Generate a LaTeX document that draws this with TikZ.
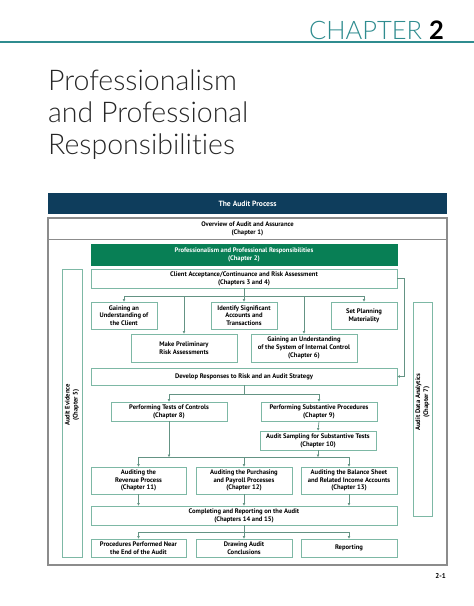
\documentclass[tikz,border=0pt]{standalone}
\usepackage{fontspec}
\setmainfont{PT Sans}
\newfontfamily\lightfont[Ligatures={NoCommon,NoRare}]{Lato Light}
\newfontfamily\latofont{Lato}
\usetikzlibrary{arrows.meta}
\definecolor{navy}{HTML}{0E3D5C}
\definecolor{dgreen}{HTML}{087F55}
\definecolor{edge}{HTML}{7DB8A5}
\definecolor{teal}{HTML}{2F8C8F}
\definecolor{frame}{HTML}{8C8C8C}
\tikzset{
  txt/.style={font=\fontsize{6.6}{7.8}\selectfont\bfseries,text=black},
  box/.style={draw=edge,line width=0.9pt,fill=white,align=center,inner sep=1pt,txt},
  arr/.style={draw=edge!80!black,line width=0.7pt,-{Triangle[length=2.4pt,width=2.4pt]}},
  ln/.style={draw=edge!80!black,line width=0.7pt},
}
\newcommand\bx[7][]{\node[box,#1,minimum width={(#4-#2)*1pt},minimum height={(#5-#3)*1pt}] (#6) at ({(#2+#4)/2},{(#3+#5)/2}) {#7};}
\begin{document}
\begin{tikzpicture}[x=1pt,y=-1pt]
\useasboundingbox (0,0) rectangle (474,606);
% chapter heading
\draw[teal,line width=1.2pt] (0,42) -- (474,42);
\node[anchor=base east,inner sep=0pt,font=\fontsize{25.5}{25.5}\selectfont] (chap) at (444,39.5)
  {\lightfont\color{teal}CHAPTER \latofont\bfseries\color{black}2};
\node[anchor=north west,inner sep=0pt,align=left,font=\fontsize{28.5}{32}\selectfont\lightfont,text=black!85] (title) at (48,70)
  {Professionalism\\and Professional\\Responsibilities};
% header and frame
\node[fill=navy,text=white,minimum width=399pt,minimum height=21pt,inner sep=0pt,
  font=\fontsize{7.6}{8}\selectfont\bfseries] (hdr) at (247.5,203.5) {The Audit Process};
\draw[frame,line width=1.3pt] (48,218) rectangle (447,565);
\draw[frame,line width=0.8pt] (48,239) -- (447,239);
\node[align=center,txt] (ov) at (247.5,228.5)
  {Overview of Audit and Assurance\\(Chapter 1)};
% green box
\bx[fill=dgreen,draw=dgreen,text=white]{91}{244}{397}{265}{prof}{Professionalism and Professional Responsibilities\\(Chapter 2)}
% side boxes
\bx{62}{269}{82}{557}{evid}{}
\node[rotate=90,align=center,txt] (evidt) at (72,405) {Audit Evidence\\(Chapter 5)};
\bx{413}{302}{432}{516}{ada}{}
\node[rotate=90,align=center,txt] (adat) at (422.5,402) {Audit Data Analytics\\(Chapter 7)};
% main boxes
\bx{91}{269}{397}{288}{client}{Client Acceptance/Continuance and Risk Assessment\\(Chapters 3 and 4)}
\bx{91}{302}{157}{329}{gc}{Gaining an\\Understanding of\\the Client}
\bx{211}{302}{277}{329}{isig}{Identify Significant\\Accounts and\\Transactions}
\bx{331}{302}{397}{329}{spm}{Set Planning\\Materiality}
\bx{131}{334}{237}{362}{mpr}{Make Preliminary\\Risk Assessments}
\bx{251}{334}{357}{362}{gsys}{Gaining an Understanding\\of the System of Internal Control\\(Chapter 6)}
\bx{91}{368}{397}{385}{dev}{Develop Responses to Risk and an Audit Strategy}
\bx{111}{402}{227}{421}{toc}{Performing Tests of Controls\\(Chapter 8)}
\bx{261}{402}{377}{421}{sub}{Performing Substantive Procedures\\(Chapter 9)}
\bx{260}{431}{376}{450}{samp}{Audit Sampling for Substantive Tests\\(Chapter 10)}
\bx{91}{467}{186}{494}{rev}{Auditing the\\Revenue Process\\(Chapter 11)}
\bx{196}{467}{292}{494}{pur}{Auditing the Purchasing\\and Payroll Processes\\(Chapter 12)}
\bx{301}{467}{397}{494}{bal}{Auditing the Balance Sheet\\and Related Income Accounts\\(Chapter 13)}
\bx{91}{506}{397}{525}{comp}{Completing and Reporting on the Audit\\(Chapters 14 and 15)}
\bx{91}{539}{186}{557}{proc}{Procedures Performed Near\\the End of the Audit}
\bx{196}{539}{292}{557}{draw}{Drawing Audit\\Conclusions}
\bx{301}{539}{397}{557}{rep}{Reporting}
% connectors
\coordinate (j1) at (244,296);
\draw[arr] (client.south) -- (isig.north);
\draw[arr] (j1) -| (gc.north);
\draw[arr] (j1) -| (spm.north);
\draw[arr] (mpr.north |- j1) -- (mpr.north);
\draw[arr] (gsys.north |- j1) -- (gsys.north);
\draw[arr] (client.east) -- ++(7,0) |- (dev.east);
\coordinate (j2) at (244,394);
\draw[ln] (dev.south) -- (j2);
\draw[arr] (j2) -| (toc.north);
\draw[arr] (j2) -| (sub.north);
\draw[arr] (sub.south) -- (samp.north);
\coordinate (j3) at (244,457);
\draw[arr] (toc.south) -- (toc.south |- j3);
\draw[arr] (samp.south) -- (samp.south |- j3);
\draw[ln] (rev.north |- j3) -- (bal.north |- j3);
\draw[arr] (rev.north |- j3) -- (rev.north);
\draw[arr] (j3) -- (pur.north);
\draw[arr] (bal.north |- j3) -- (bal.north);
\draw[arr] (rev.south) -- (rev.south |- comp.north);
\draw[arr] (pur.south) -- (pur.south |- comp.north);
\draw[arr] (bal.south) -- (bal.south |- comp.north);
\coordinate (j4) at (244,532);
\draw[ln] (comp.south) -- (j4);
\draw[arr] (j4) -| (proc.north);
\draw[arr] (j4) -- (draw.north);
\draw[arr] (j4) -| (rep.north);
% page number
\node[anchor=base east,inner sep=0pt,font=\fontsize{7}{7}\selectfont\bfseries] (pg) at (446,578) {2-1};
\end{tikzpicture}
\end{document}
